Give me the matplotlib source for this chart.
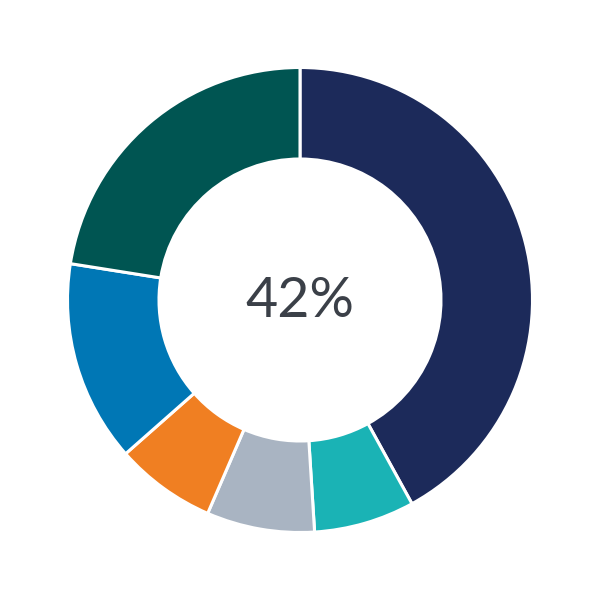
import matplotlib
matplotlib.use("Agg")
import matplotlib.pyplot as plt

# Share of each segment, clockwise from the top
labels = ["Navy", "Teal", "Gray", "Orange", "Blue", "Green"]
values = [42, 7, 7.5, 7, 14, 22.5]
colors = ["#1c2a5a", "#1ab3b5", "#a9b4c2", "#f07f22", "#0077b5", "#005552"]
center_label = "42%"

fig = plt.figure(figsize=(6, 6), dpi=100)
ax = fig.add_axes([0, 0, 1, 1])

ax.pie(values, colors=colors, startangle=90, counterclock=False,
       radius=0.775,
       wedgeprops=dict(width=0.305, edgecolor="white", linewidth=2.2))

ax.text(0, -0.005, center_label, ha="center", va="center",
        fontsize=40, color="#3b4048", family="Lato")

ax.set_xlim(-1, 1)
ax.set_ylim(-1, 1)
ax.set_aspect("equal")
ax.axis("off")

fig.savefig("out.png", dpi=100, facecolor="white")
